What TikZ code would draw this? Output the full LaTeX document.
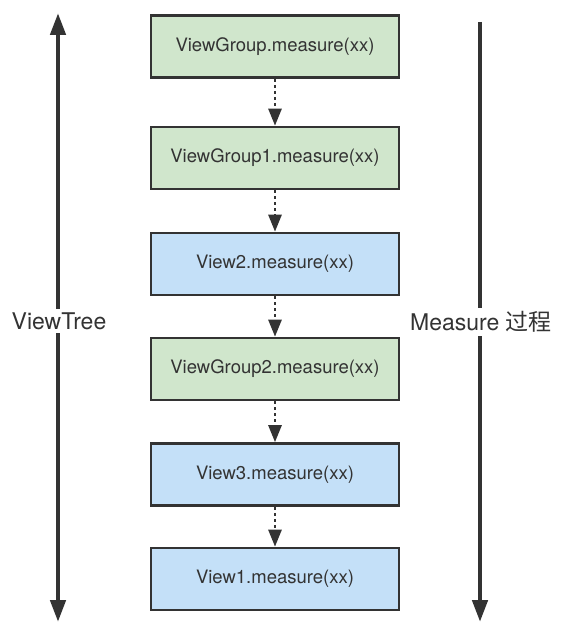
\documentclass[tikz,border=0pt]{standalone}
\usepackage{fontspec}
\setmainfont{TeX Gyre Heros}
\newfontfamily\cjk{Noto Sans CJK SC}
\usetikzlibrary{arrows.meta}
\definecolor{ink}{HTML}{333333}
\definecolor{grp}{HTML}{D0E6CC}
\definecolor{leaf}{HTML}{C4E0F8}
\tikzset{
  call/.style={draw=ink, line width=2.6pt, minimum width=248pt, minimum height=62pt,
    inner sep=0pt, text=ink, font=\fontsize{18.5}{21}\selectfont},
  grpbox/.style={call, fill=grp},
  leafbox/.style={call, fill=leaf},
  flow/.style={draw=ink, line width=2.6pt, dash pattern=on 3pt off 3pt,
    -{Triangle[length=17pt,width=13pt]}},
  axis/.style={draw=ink, line width=4.5pt},
  bigtip/.tip={Triangle[length=22pt,width=15pt]},
  side/.style={fill=white, text=ink, inner sep=3pt, font=\fontsize{23}{26}\selectfont}
}
\begin{document}
\begin{tikzpicture}[x=1pt,y=-1pt]
        \useasboundingbox (0,0) rectangle (566,644);
        % call chain
        \node [grpbox]  (VG)  at (275, 46.5)  {ViewGroup.measure(xx)};
        \node [grpbox]  (VG1) at (275, 158)   {ViewGroup1.measure(xx)};
        \node [leafbox] (V2)  at (275, 264)   {View2.measure(xx)};
        \node [grpbox]  (VG2) at (275, 369)   {ViewGroup2.measure(xx)};
        \node [leafbox] (V3)  at (275, 474.5) {View3.measure(xx)};
        \node [leafbox] (V1)  at (275, 579)   {View1.measure(xx)};
        \draw [flow] (VG)  -- (VG1);
        \draw [flow] (VG1) -- (V2);
        \draw [flow] (V2)  -- (VG2);
        \draw [flow] (VG2) -- (V3);
        \draw [flow] (V3)  -- (V1);
        % side axes
        \coordinate (LT) at (58, 13);
        \coordinate (LB) at (58, 622);
        \coordinate (RT) at (480, 22);
        \coordinate (RB) at (480, 622);
        \draw [axis, bigtip-bigtip] (LT) -- (LB);
        \draw [axis, -bigtip] (RT) -- (RB);
        \node [side] (VT) at (59, 321) {ViewTree};
        \node [side] (MP) at (481, 322) {Measure {\cjk 过程}};
\end{tikzpicture}
\end{document}
